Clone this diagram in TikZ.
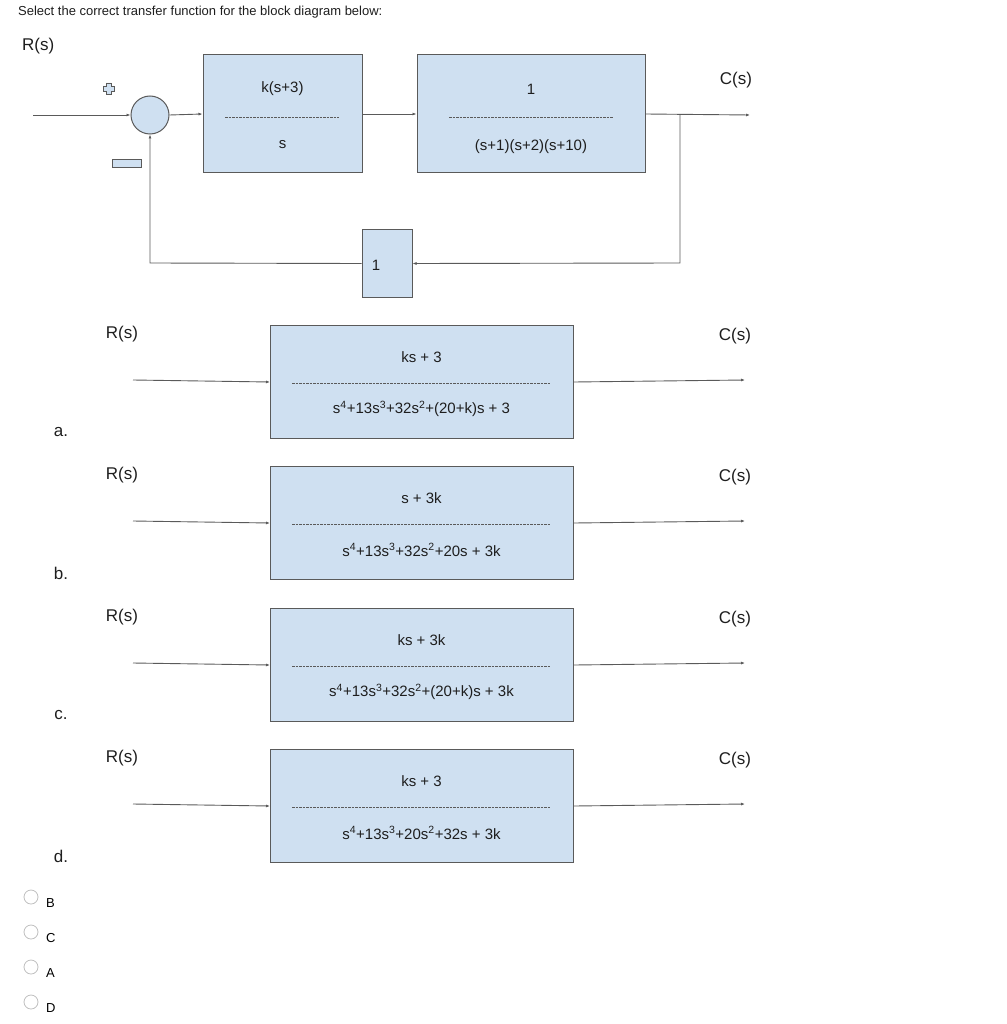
\documentclass[tikz,border=0pt]{standalone}
\usepackage{fontspec}
\setmainfont{Liberation Sans}
\usetikzlibrary{arrows.meta}
\definecolor{bfill}{RGB}{207,224,241}
\definecolor{bdraw}{RGB}{90,90,90}
\definecolor{txt}{RGB}{30,30,30}
\tikzset{
 blk/.style={draw=bdraw,fill=bfill,line width=1pt},
 ln/.style={draw=bdraw,line width=0.9pt},
 arr/.style={ln,-{Latex[length=4pt,width=3pt]}},
 dl/.style={draw=bdraw,line width=0.8pt,dash pattern=on 2.5pt off 1pt},
 lbl/.style={text=txt,font=\fontsize{17}{17}\selectfont,inner sep=0pt},
 btxt/.style={text=txt,font=\fontsize{15}{15}\selectfont,inner sep=0pt},
 radio/.style={draw=black!25,line width=0.8pt,fill=white}
}
\begin{document}
\begin{tikzpicture}[x=1pt,y=-1pt]
\useasboundingbox (0,0) rectangle (1006,1024);
\node[anchor=west,text=txt,font=\fontsize{13}{13}\selectfont,inner sep=0pt] (title) at (18,12) {Select the correct transfer function for the block diagram below:};
\node[lbl,anchor=west] (R0) at (22,46) {R(s)};
% top diagram
\coordinate (in) at (33,115);
\node[blk,circle,minimum size=38pt,inner sep=0pt] (sum) at (150,115) {};
\draw[blk,line width=0.8pt] (111,86)--(111,83)--(106,83)--(106,86)--(103,86)--(103,91)--(106,91)--(106,94)--(111,94)--(111,91)--(114,91)--(114,86)--cycle;
\node[blk,line width=0.8pt,minimum width=29pt,minimum height=8pt,inner sep=0pt] (minus) at (127,163) {};
\node[blk,minimum width=159pt,minimum height=118pt] (b1) at (282.5,114) {};
\node[btxt] (b1n) at (282.5,89) {k(s+3)};
\node[btxt] (b1d) at (282.5,145) {s};
\draw[dl] (225,117)--(339,117);
\node[blk,minimum width=228pt,minimum height=118pt] (b2) at (531,114) {};
\node[btxt] (b2n) at (531,89) {1};
\node[btxt] (b2d) at (531,147) {(s+1)(s+2)(s+10)};
\draw[dl] (449,117)--(613,117);
\node[lbl] (C0) at (736,80) {C(s)};
\coordinate (out) at (750,115);
\coordinate (tap) at (680,115);
\coordinate (fbr) at (680,263);
\node[blk,minimum width=50pt,minimum height=67pt] (h) at (387,263.5) {};
\node[btxt] at (376,265) {1};
\coordinate (fbl) at (150,263);
\draw[arr] (in) -- (sum.west);
\draw[arr] (sum.east) -- (b1.west);
\draw[arr] (b1.east) -- (b2.west);
\draw[arr] (b2.east) -- (out);
\draw[arr] (tap) -- (fbr) -- (h.east);
\draw[arr] (h.west) -- (fbl) -- (sum.south);
% options
\foreach \y/\L/\N/\D in {
 325/a/{ks + 3}/{s\textsuperscript{4}+13s\textsuperscript{3}+32s\textsuperscript{2}+(20+k)s + 3},
 466/b/{s + 3k}/{s\textsuperscript{4}+13s\textsuperscript{3}+32s\textsuperscript{2}+20s + 3k},
 608/c/{ks + 3k}/{s\textsuperscript{4}+13s\textsuperscript{3}+32s\textsuperscript{2}+(20+k)s + 3k},
 749/d/{ks + 3}/{s\textsuperscript{4}+13s\textsuperscript{3}+20s\textsuperscript{2}+32s + 3k}}{
 \node[blk,anchor=north west,minimum width=303pt,minimum height=113pt] (o\L) at (270,\y) {};
 \node[btxt] (o\L n) at (421.5,\y+32) {\N};
 \node[btxt] (o\L d) at (421.5,\y+84) {\D};
 \draw[dl] (292,\y+58)--(551,\y+58);
 \node[lbl] (oR\L) at (122,\y+9) {R(s)};
 \node[lbl] (oC\L) at (735,\y+11) {C(s)};
 \node[lbl] (lab\L) at (61,\y+107) {\L.};
 \coordinate (oi\L) at (133,\y+55);
 \coordinate (oo\L) at (745,\y+55);
 \draw[arr] (oi\L) -- (o\L.west);
 \draw[arr] (o\L.east) -- (oo\L);
}
\foreach \y/\c in {897/B,932/C,967/A,1002/D}{
 \node[radio,circle,minimum size=14pt,inner sep=0pt] (r\c) at (31,\y) {};
 \node[anchor=west,text=black,font=\fontsize{13}{13}\selectfont,inner sep=0pt] (t\c) at (46,\y+6) {\c};
}
\end{tikzpicture}
\end{document}
